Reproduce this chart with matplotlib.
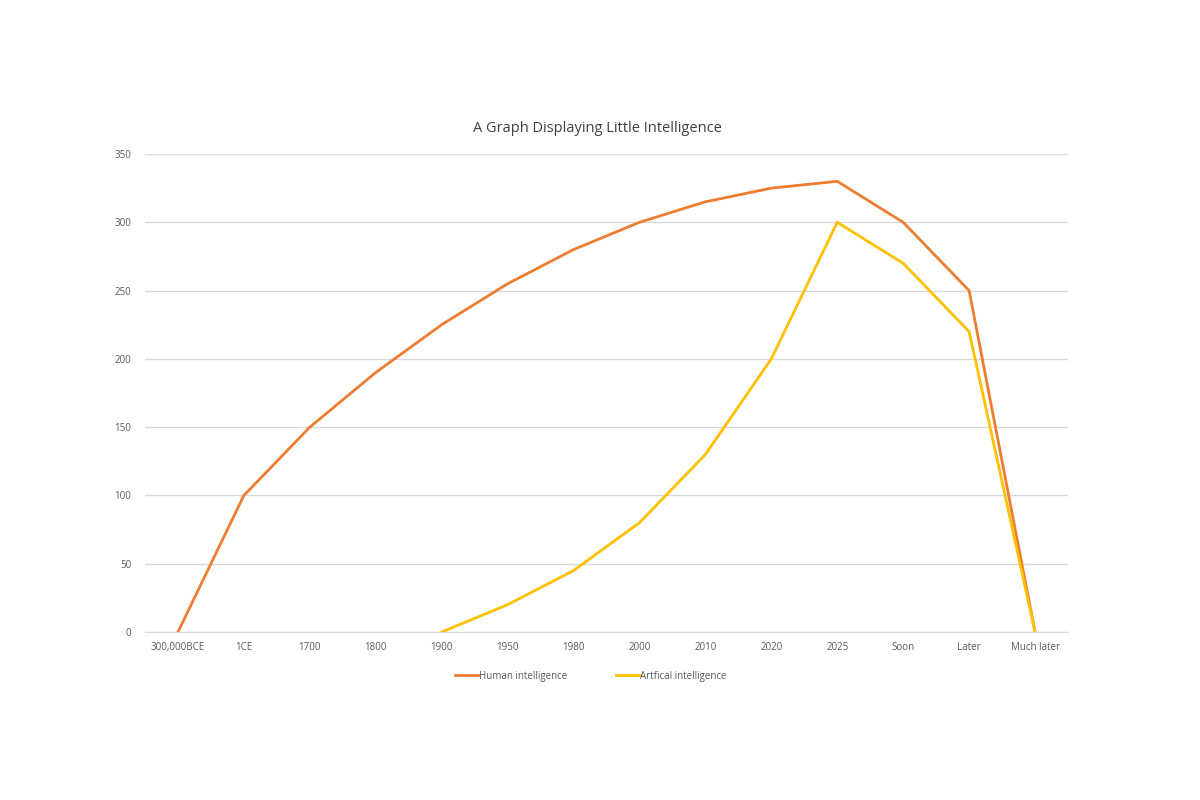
import matplotlib
matplotlib.use("Agg")
import matplotlib.pyplot as plt
import numpy as np

categories = ["300,000BCE", "1CE", "1700", "1800", "1900", "1950", "1980",
              "2000", "2010", "2020", "2025", "Soon", "Later", "Much later"]
human = [0, 100, 150, 190, 225, 255, 280, 300, 315, 325, 330, 300, 250, 0]
ai = [np.nan, np.nan, np.nan, np.nan, 0, 20, 45, 80, 130, 200, 300, 270, 220, 0]
yticks = [0, 50, 100, 150, 200, 250, 300, 350]

plt.rcParams['font.family'] = ['Open Sans', 'DejaVu Sans']
text_color = "#595959"

fig = plt.figure(figsize=(12, 8), dpi=100)
ax = fig.add_axes([145/1200, 1 - 632/800, (1068-145)/1200, (632-154)/800])

x = np.arange(len(categories))
ax.plot(x, human, color="#ED7D31", lw=2.0, label="Human intelligence", solid_joinstyle="miter")
ax.plot(x, ai, color="#FFC000", lw=2.0, label="Artfical intelligence", solid_joinstyle="miter")

ax.set_xlim(-0.5, len(categories) - 0.5)
ax.set_ylim(0, 350)
ax.set_yticks(yticks)
ax.set_xticks(x)
ax.set_xticklabels(categories)
ax.tick_params(axis="both", length=0, labelsize=7, colors=text_color)
ax.tick_params(axis="y", pad=10)
ax.tick_params(axis="x", pad=7)
ax.grid(axis="y", color="#d9d9d9", lw=1)
ax.set_axisbelow(True)
for s in ["top", "right", "left"]:
    ax.spines[s].set_visible(False)
ax.spines["bottom"].set_color("#d9d9d9")

fig.text(597/1200, 1 - 129/800, "A Graph Displaying Little Intelligence",
         ha="center", va="center", fontsize=10.5, color="#404040")

fig.legend(loc="center", bbox_to_anchor=(591/1200, 1 - 676/800), ncol=2,
           frameon=False, fontsize=7, labelcolor=text_color,
           handlelength=2.4, handletextpad=0.1, columnspacing=5)

fig.savefig("out.png", dpi=100, facecolor="white")
